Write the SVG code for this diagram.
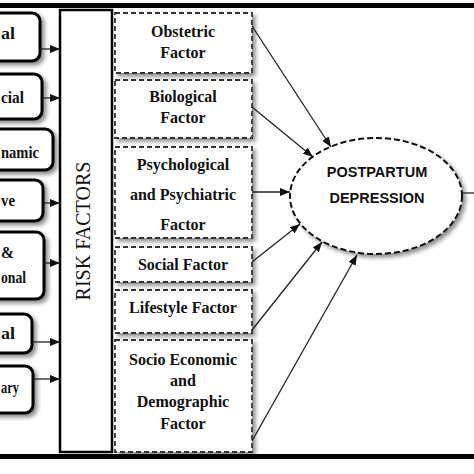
<svg xmlns="http://www.w3.org/2000/svg" width="474" height="474" viewBox="0 0 474 474">
<style>
.lbox{fill:#fff;stroke:#000;stroke-width:3}
.mbox{fill:#fff;stroke:#333;stroke-width:1.8;stroke-dasharray:5 3}
.t{font-family:"Liberation Serif","Times New Roman",serif;font-weight:bold;font-size:16px;fill:#111}
.tl{font-family:"Liberation Serif","Times New Roman",serif;font-weight:bold;font-size:17px;fill:#111}
.tm{text-anchor:middle}
.conn{stroke:#222;stroke-width:1.3;fill:none}
</style>
<defs>
<filter id="sh" x="-20%" y="-20%" width="150%" height="150%">
<feGaussianBlur in="SourceAlpha" stdDeviation="2"/>
<feOffset dx="3" dy="3" result="b"/>
<feComponentTransfer><feFuncA type="linear" slope="0.45"/></feComponentTransfer>
<feMerge><feMergeNode/><feMergeNode in="SourceGraphic"/></feMerge>
</filter>
<marker id="ah" viewBox="0 0 10 8" refX="10" refY="4" markerWidth="10" markerHeight="8" markerUnits="userSpaceOnUse" orient="auto">
<path d="M0,0 L10,4 L0,8 z" fill="#111"/>
</marker>
</defs>
<rect width="474" height="474" fill="#fff"/>
<rect x="0" y="3" width="474" height="5" fill="#000"/>
<rect x="0" y="454" width="474" height="5" fill="#000"/>

<g id="left1"><rect class="lbox" x="-40" y="13" width="80" height="48" rx="8" filter="url(#sh)"/><text class="tl" x="1" y="39" textLength="14" lengthAdjust="spacingAndGlyphs">al</text></g>
<g id="left2"><rect class="lbox" x="-40" y="74" width="82" height="45" rx="8" filter="url(#sh)"/><text class="tl" x="1" y="103" textLength="23" lengthAdjust="spacingAndGlyphs">cial</text></g>
<g id="left3"><rect class="lbox" x="-40" y="129" width="93" height="41" rx="8" filter="url(#sh)"/><text class="tl" x="1" y="158" textLength="38" lengthAdjust="spacingAndGlyphs">namic</text></g>
<g id="left4"><rect class="lbox" x="-40" y="180" width="83" height="41" rx="8" filter="url(#sh)"/><text class="tl" x="1" y="206" textLength="14" lengthAdjust="spacingAndGlyphs">ve</text></g>
<g id="left5"><rect class="lbox" x="-40" y="232" width="84" height="67" rx="8" filter="url(#sh)"/><text class="tl" x="1" y="258" textLength="13" lengthAdjust="spacingAndGlyphs">&amp;</text><text class="tl" x="1" y="283" textLength="25" lengthAdjust="spacingAndGlyphs">onal</text></g>
<g id="left6"><rect class="lbox" x="-40" y="314" width="72" height="39" rx="8" filter="url(#sh)"/><text class="tl" x="1" y="339" textLength="14" lengthAdjust="spacingAndGlyphs">al</text></g>
<g id="left7"><rect class="lbox" x="-40" y="366" width="73" height="47" rx="8" filter="url(#sh)"/><text class="tl" x="1" y="393" textLength="18" lengthAdjust="spacingAndGlyphs">ary</text></g>

<g id="risk"><rect x="60" y="10" width="52" height="442" fill="#fff" stroke="#000" stroke-width="2.5"/>
<text x="90" y="231" transform="rotate(-90 90 231)" text-anchor="middle" font-family="Liberation Serif,'Times New Roman',serif" font-size="20" fill="#111">RISK FACTORS</text></g>

<g id="obstetric"><rect class="mbox" x="115" y="13" width="137" height="60" filter="url(#sh)"/><text class="t tm" x="183" y="37">Obstetric</text><text class="t tm" x="183" y="58">Factor</text></g>
<g id="biological"><rect class="mbox" x="115" y="80" width="137" height="58" filter="url(#sh)"/><text class="t tm" x="183" y="102">Biological</text><text class="t tm" x="183" y="123">Factor</text></g>
<g id="psych"><rect class="mbox" x="115" y="147" width="137" height="91" filter="url(#sh)"/><text class="t tm" x="183" y="170">Psychological</text><text class="t tm" x="183" y="200">and Psychiatric</text><text class="t tm" x="183" y="230">Factor</text></g>
<g id="social"><rect class="mbox" x="115" y="247" width="137" height="35" filter="url(#sh)"/><text class="t tm" x="183" y="270">Social Factor</text></g>
<g id="lifestyle"><rect class="mbox" x="115" y="290" width="137" height="43" filter="url(#sh)"/><text class="t tm" x="183" y="313">Lifestyle Factor</text></g>
<g id="socio"><rect class="mbox" x="115" y="340" width="137" height="112" filter="url(#sh)"/><text class="t tm" x="183" y="365">Socio Economic</text><text class="t tm" x="183" y="386">and</text><text class="t tm" x="183" y="407">Demographic</text><text class="t tm" x="183" y="429">Factor</text></g>

<g id="ppd"><ellipse cx="376" cy="196" rx="86" ry="58" fill="#fff" stroke="#111" stroke-width="2" stroke-dasharray="6 3" filter="url(#sh)"/>
<text x="377" y="177" text-anchor="middle" font-family="Liberation Sans,Arial,sans-serif" font-weight="bold" font-size="14.5" fill="#111">POSTPARTUM</text>
<text x="377" y="203" text-anchor="middle" font-family="Liberation Sans,Arial,sans-serif" font-weight="bold" font-size="14.5" fill="#111">DEPRESSION</text></g>

<g id="connectors">
<line class="conn" x1="40" y1="49" x2="60" y2="49" marker-end="url(#ah)"/>
<line class="conn" x1="42" y1="98" x2="60" y2="98" marker-end="url(#ah)"/>
<line class="conn" x1="43" y1="203" x2="60" y2="203" marker-end="url(#ah)"/>
<line class="conn" x1="44" y1="263" x2="60" y2="263" marker-end="url(#ah)"/>
<line class="conn" x1="32" y1="342" x2="60" y2="342" marker-end="url(#ah)"/>
<line class="conn" x1="33" y1="379" x2="60" y2="379" marker-end="url(#ah)"/>
<line class="conn" x1="252" y1="26" x2="331" y2="147" marker-end="url(#ah)"/>
<line class="conn" x1="252" y1="107" x2="313" y2="157" marker-end="url(#ah)"/>
<line class="conn" x1="252" y1="192" x2="290" y2="192" marker-end="url(#ah)"/>
<line class="conn" x1="252" y1="262" x2="300" y2="224" marker-end="url(#ah)"/>
<line class="conn" x1="252" y1="330" x2="322" y2="242" marker-end="url(#ah)"/>
<line class="conn" x1="252" y1="441" x2="357" y2="255" marker-end="url(#ah)"/>
<line class="conn" x1="462" y1="193" x2="474" y2="193"/>
</g>
</svg>
